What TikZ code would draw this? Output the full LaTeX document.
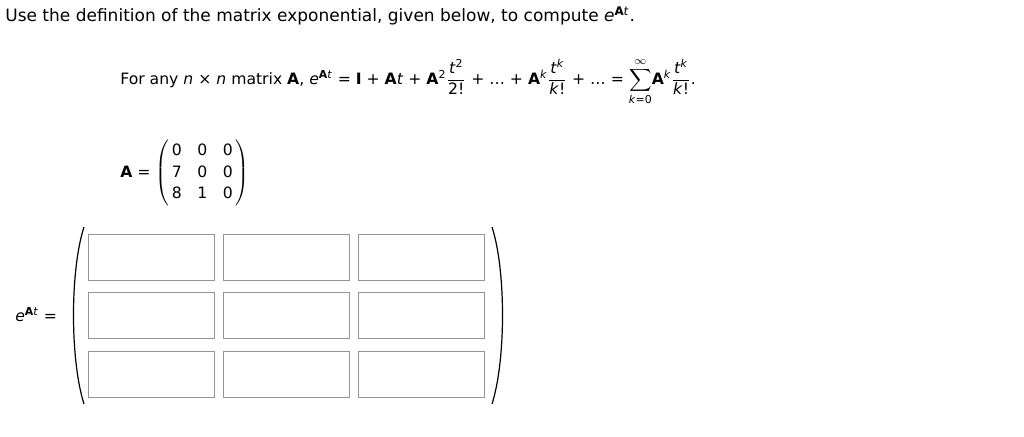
\documentclass[tikz,border=0pt]{standalone}
\usepackage{amsmath}
\usepackage{fontspec}
\setmainfont{DejaVu Sans}
\newcommand{\eAt}{\textit{e}\textsuperscript{\textbf{A}\textit{t}}}
\newcommand{\fr}[2]{$\dfrac{\text{#1}}{\text{#2}}$}
\begin{document}
\begin{tikzpicture}[x=1pt,y=-1pt,
  cell/.style={draw=gray!85,line width=1pt,minimum width=126pt,minimum height=46pt,inner sep=0pt,anchor=north west},
  txt/.style={inner sep=0pt,anchor=base west,scale=1.7,transform shape}]
\useasboundingbox (0,0) rectangle (1024,436);
\node[txt] (title) at (5,22) {Use the definition of the matrix exponential, given below, to compute \eAt.};
\node[txt,scale=0.92] (def) at (120,84) {For any \textit{n} × \textit{n} matrix \textbf{A}, \eAt{} = \textbf{I} + \textbf{A}\textit{t} + \textbf{A}\textsuperscript{2}\fr{\textit{t}\textsuperscript{2}}{2!} + \ldots{} + \textbf{A}\textsuperscript{\textit{k}}\fr{\textit{t}\textsuperscript{\textit{k}}}{\textit{k}!} + \ldots{} = $\displaystyle\sum_{\text{\scriptsize\textit{k}=0}}^{\infty}$\textbf{A}\textsuperscript{\textit{k}}\fr{\textit{t}\textsuperscript{\textit{k}}}{\textit{k}!}.};
\node[txt,scale=0.92] (A) at (120,177) {\textbf{A} = {\renewcommand{\arraystretch}{1.15}$\left(\begin{array}{@{\,}ccc@{\,}}\text{0}&\text{0}&\text{0}\\\text{7}&\text{0}&\text{0}\\\text{8}&\text{1}&\text{0}\end{array}\right)$}};
\node[txt,scale=0.92] (eat) at (15,321) {\eAt{} =};
\foreach \r/\y in {1/234,2/292,3/351}
  \foreach \c/\x in {1/88,2/223,3/358}
    \node[cell] (c\r\c) at (\x,\y) {};
\draw[line width=1.2pt] (84,227) .. controls (70,270) and (70,360) .. (84,404);
\draw[line width=1.2pt] (492,227) .. controls (506,270) and (506,360) .. (492,404);
\end{tikzpicture}
\end{document}
